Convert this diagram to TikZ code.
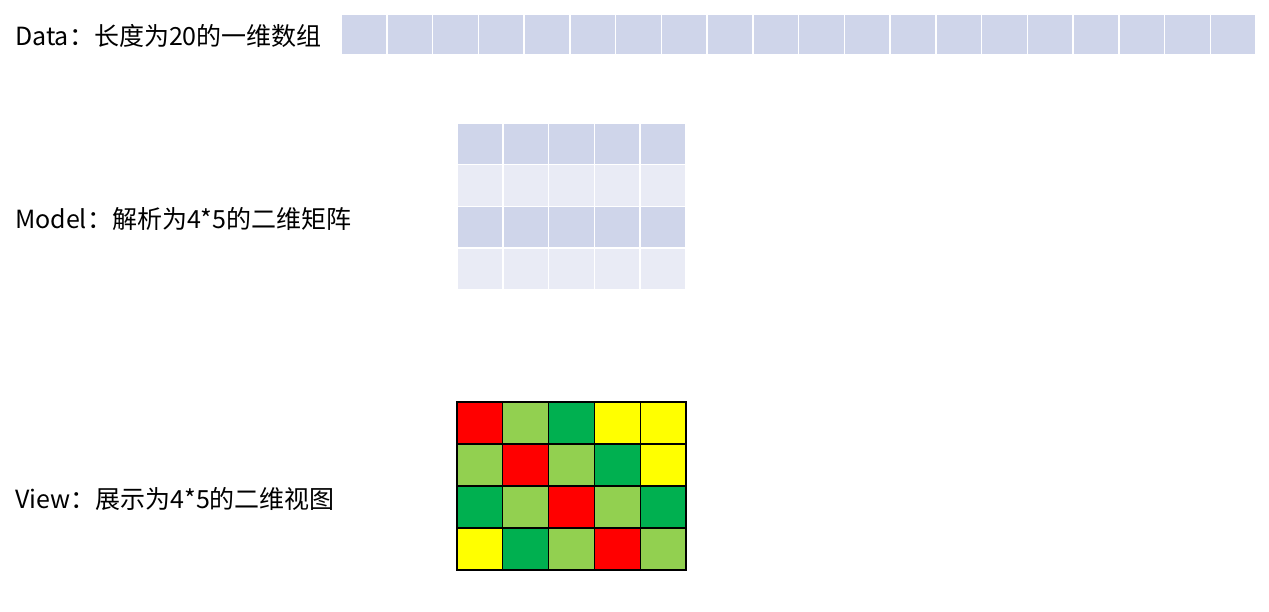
\documentclass[tikz,border=0pt]{standalone}
\usepackage{fontspec}
\setmainfont{Noto Sans CJK SC}
\definecolor{blueA}{HTML}{CFD5EA}
\definecolor{blueB}{HTML}{E9EBF5}
\definecolor{cR}{HTML}{FF0000}
\definecolor{cL}{HTML}{92D050}
\definecolor{cG}{HTML}{00B050}
\definecolor{cY}{HTML}{FFFF00}
\tikzset{
  lbl/.style={anchor=west, inner sep=0pt, font=\fontsize{25}{28}\selectfont},
  dcell/.style={draw=white, line width=1.5pt, fill=blueA, minimum width=45.75pt, minimum height=41pt, inner sep=0pt, outer sep=0pt},
  mcell/.style={draw=white, line width=1.5pt, minimum width=45.8pt, minimum height=41.75pt, inner sep=0pt, outer sep=0pt},
  vcell/.style={draw=black, line width=1.2pt, minimum width=45.8pt, minimum height=42pt, inner sep=0pt, outer sep=0pt}
}
\begin{document}
\begin{tikzpicture}[x=1pt,y=-1pt]
\useasboundingbox (0,0) rectangle (1269,612);
\node[lbl] (tdata) at (15,36) {Data：长度为20的一维数组};
\node[lbl] (tmodel) at (15,219) {Model：解析为4*5的二维矩阵};
\node[lbl] (tview) at (15,499) {View：展示为4*5的二维视图};
\foreach \i in {1,...,20} {
  \node[dcell] (d\i) at ({341+45.75*(\i-0.5)},34.5) {};
}
\foreach \col [count=\k from 0] in {blueA,blueA,blueA,blueA,blueA, blueB,blueB,blueB,blueB,blueB, blueA,blueA,blueA,blueA,blueA, blueB,blueB,blueB,blueB,blueB} {
  \pgfmathtruncatemacro{\r}{int(\k/5)+1}
  \pgfmathtruncatemacro{\c}{mod(\k,5)+1}
  \node[mcell, fill=\col] (m\r\c) at ({457+45.8*(\c-0.5)},{123+41.75*(\r-0.5)}) {};
}
\foreach \col [count=\k from 0] in {cR,cL,cG,cY,cY, cL,cR,cL,cG,cY, cG,cL,cR,cL,cG, cY,cG,cL,cR,cL} {
  \pgfmathtruncatemacro{\r}{int(\k/5)+1}
  \pgfmathtruncatemacro{\c}{mod(\k,5)+1}
  \node[vcell, fill=\col] (v\r\c) at ({457+45.8*(\c-0.5)},{402+42*(\r-0.5)}) {};
}
\end{tikzpicture}
\end{document}
